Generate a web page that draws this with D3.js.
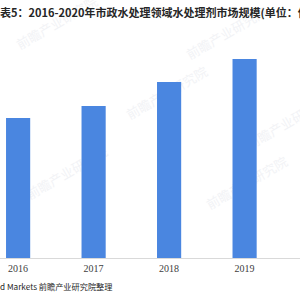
<!DOCTYPE html>
<html>
<head>
<meta charset="utf-8">
<script src="https://cdn.jsdelivr.net/npm/d3@7"></script>
<style>
  body { margin: 0; background: #fff; }
  svg { display: block; }
</style>
</head>
<body>
<script>
// data (2020 falls outside the crop)
var years = ["2016", "2017", "2018", "2019", "2020"];
var values = [70, 76, 88, 99.5, 112];
var titleText = "表5：2016-2020年市政水处理领域水处理剂市场规模(单位：亿元)";
var sourceText = "d Markets 前瞻产业研究院整理";

var w = 300, h = 300;
var baseY = 258;

var svg = d3.select("body").append("svg")
  .attr("width", w)
  .attr("height", h);

// watermarks, very faint
var marks = [[20, 50], [130, 120], [190, 60], [250, 150], [30, 200], [210, 210]];
svg.selectAll(".wm")
  .data(marks)
  .join("text")
  .attr("class", "wm")
  .attr("transform", function(d){ return "translate(" + d[0] + "," + d[1] + ") rotate(-30)"; })
  .attr("font-family", "Noto Sans CJK SC")
  .attr("font-size", 13)
  .attr("fill", "#f2f3f6")
  .text("前瞻产业研究院");

// scales - chart is wider than the window, 2020 is cut off
var x = d3.scaleBand()
  .domain(years)
  .range([-45.3, 383.5])
  .padding(0.68);

var y = d3.scaleLinear()
  .domain([0, 100])
  .range([baseY, baseY - 200]);

svg.selectAll(".bar")
  .data(values)
  .join("rect")
  .attr("class", "bar")
  .attr("x", function(d, i){ return x(years[i]); })
  .attr("y", function(d){ return y(d); })
  .attr("width", x.bandwidth())
  .attr("height", function(d){ return baseY - y(d); })
  .attr("fill", "#4a86e0");

// x axis
var xAxis = svg.append("g")
  .attr("transform", "translate(0," + baseY + ")")
  .call(d3.axisBottom(x).tickSize(0).tickPadding(7));
xAxis.select(".domain").attr("stroke", "#d9d9d9").attr("d", "M-50,0.5H400");
xAxis.selectAll("text")
  .attr("font-family", "Liberation Serif")
  .attr("font-size", 10)
  .attr("fill", "#404040");

// title
svg.append("text")
  .attr("x", 0)
  .attr("y", 17)
  .attr("font-family", "Noto Sans CJK SC")
  .attr("font-size", 11)
  .attr("font-weight", "bold")
  .attr("fill", "#262626")
  .text(titleText);

// source
svg.append("text")
  .attr("x", 0)
  .attr("y", 290)
  .attr("font-family", "Noto Sans CJK SC")
  .attr("font-size", 8.2)
  .attr("fill", "#262626")
  .text(sourceText);
</script>
</body>
</html>
